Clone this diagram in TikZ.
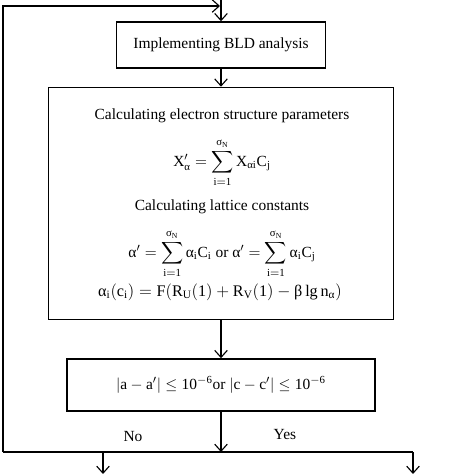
\documentclass[tikz,border=0pt]{standalone}
\usepackage{amsmath}
\usepackage{fontspec}
\setmainfont{Liberation Serif}
\usetikzlibrary{arrows.meta,positioning}
\newcommand{\ua}{\text{α}}
\newcommand{\ub}{\text{β}}
\newcommand{\usig}{\text{σ}}
\tikzset{
  stepbox/.style={rectangle,draw=black,line width=1pt,fill=white,
                  minimum width=#1,align=center,inner sep=0pt,
                  font=\fontsize{11}{13}\selectfont},
  stepbox/.default=5cm,
  txt/.style={inner sep=0pt,align=center,font=\fontsize{11}{13}\selectfont},
  flow/.style={-{Straight Barb[length=5pt,width=9pt]},line width=0.8pt},
  wire/.style={line width=0.8pt},
}
\begin{document}
\begin{tikzpicture}[x=0.025cm,y=-0.025cm]
  \useasboundingbox (0,0) rectangle (474,474);

  \node[stepbox=5.225cm, minimum height=1.15cm] (bld) at (221,45)
    {Implementing BLD analysis};

  % --- main calculation block ---
  \node[stepbox=8.625cm, minimum height=5.8cm, below=0.45cm of bld] (calc) {};
  \node[txt] (t1) at (222,116) {Calculating electron structure parameters};
  \node[txt] (e1) at (222,163)
    {$\displaystyle \mathrm{X'_{\ua} = \sum_{\vphantom{|}i=1}^{\usig_N\vphantom{|}} X_{\ua i}C_j}$};
  \node[txt] (t2) at (222,207) {Calculating lattice constants};
  \node[txt] (e2) at (222,254)
    {$\displaystyle \mathrm{\ua' = \sum_{\vphantom{|}i=1}^{\usig_N\vphantom{|}} \ua_i C_i}$ or
     $\displaystyle \mathrm{\ua' = \sum_{\vphantom{|}i=1}^{\usig_N\vphantom{|}} \ua_i C_j}$};
  \node[txt, font=\fontsize{11.5}{13}\selectfont] (e3) at (220,292)
    {$\mathrm{\ua_i(c_i) = F(R_U(1) + R_V(1) - \ub \lg n_{\ua})}$};

  % --- convergence check ---
  \node[stepbox=7.7cm, minimum height=1.3cm, below=0.95cm of calc] (conv)
    {$\mathrm{|a - a'| \leq 10^{-6}}$or $\mathrm{|c - c'| \leq 10^{-6}}$};

  \coordinate (in) at (221,0);
  \coordinate (jn) at (221,452);
  \coordinate (lb) at (3,452);
  \coordinate (rb) at (413,452);
  \coordinate (lt) at (3,6);
  \coordinate (back) at (220,6);
  \coordinate (outl) at (103,474);
  \coordinate (outr) at (413,474);

  \draw[flow] (in) -- (bld);
  \draw[flow] (bld) -- (calc);
  \draw[flow] (calc) -- (conv);
  \draw[flow] (conv) -- (jn);
  \draw[wire] (lb) -- (rb);
  \draw[flow] (lb) -- (lt) -- (back);
  \draw[flow] (outl |- lb) -- (outl);
  \draw[flow] (rb) -- (outr);

  \node[txt] (no) at (133,437) {No};
  \node[txt] (yes) at (285,435) {Yes};
\end{tikzpicture}
\end{document}
